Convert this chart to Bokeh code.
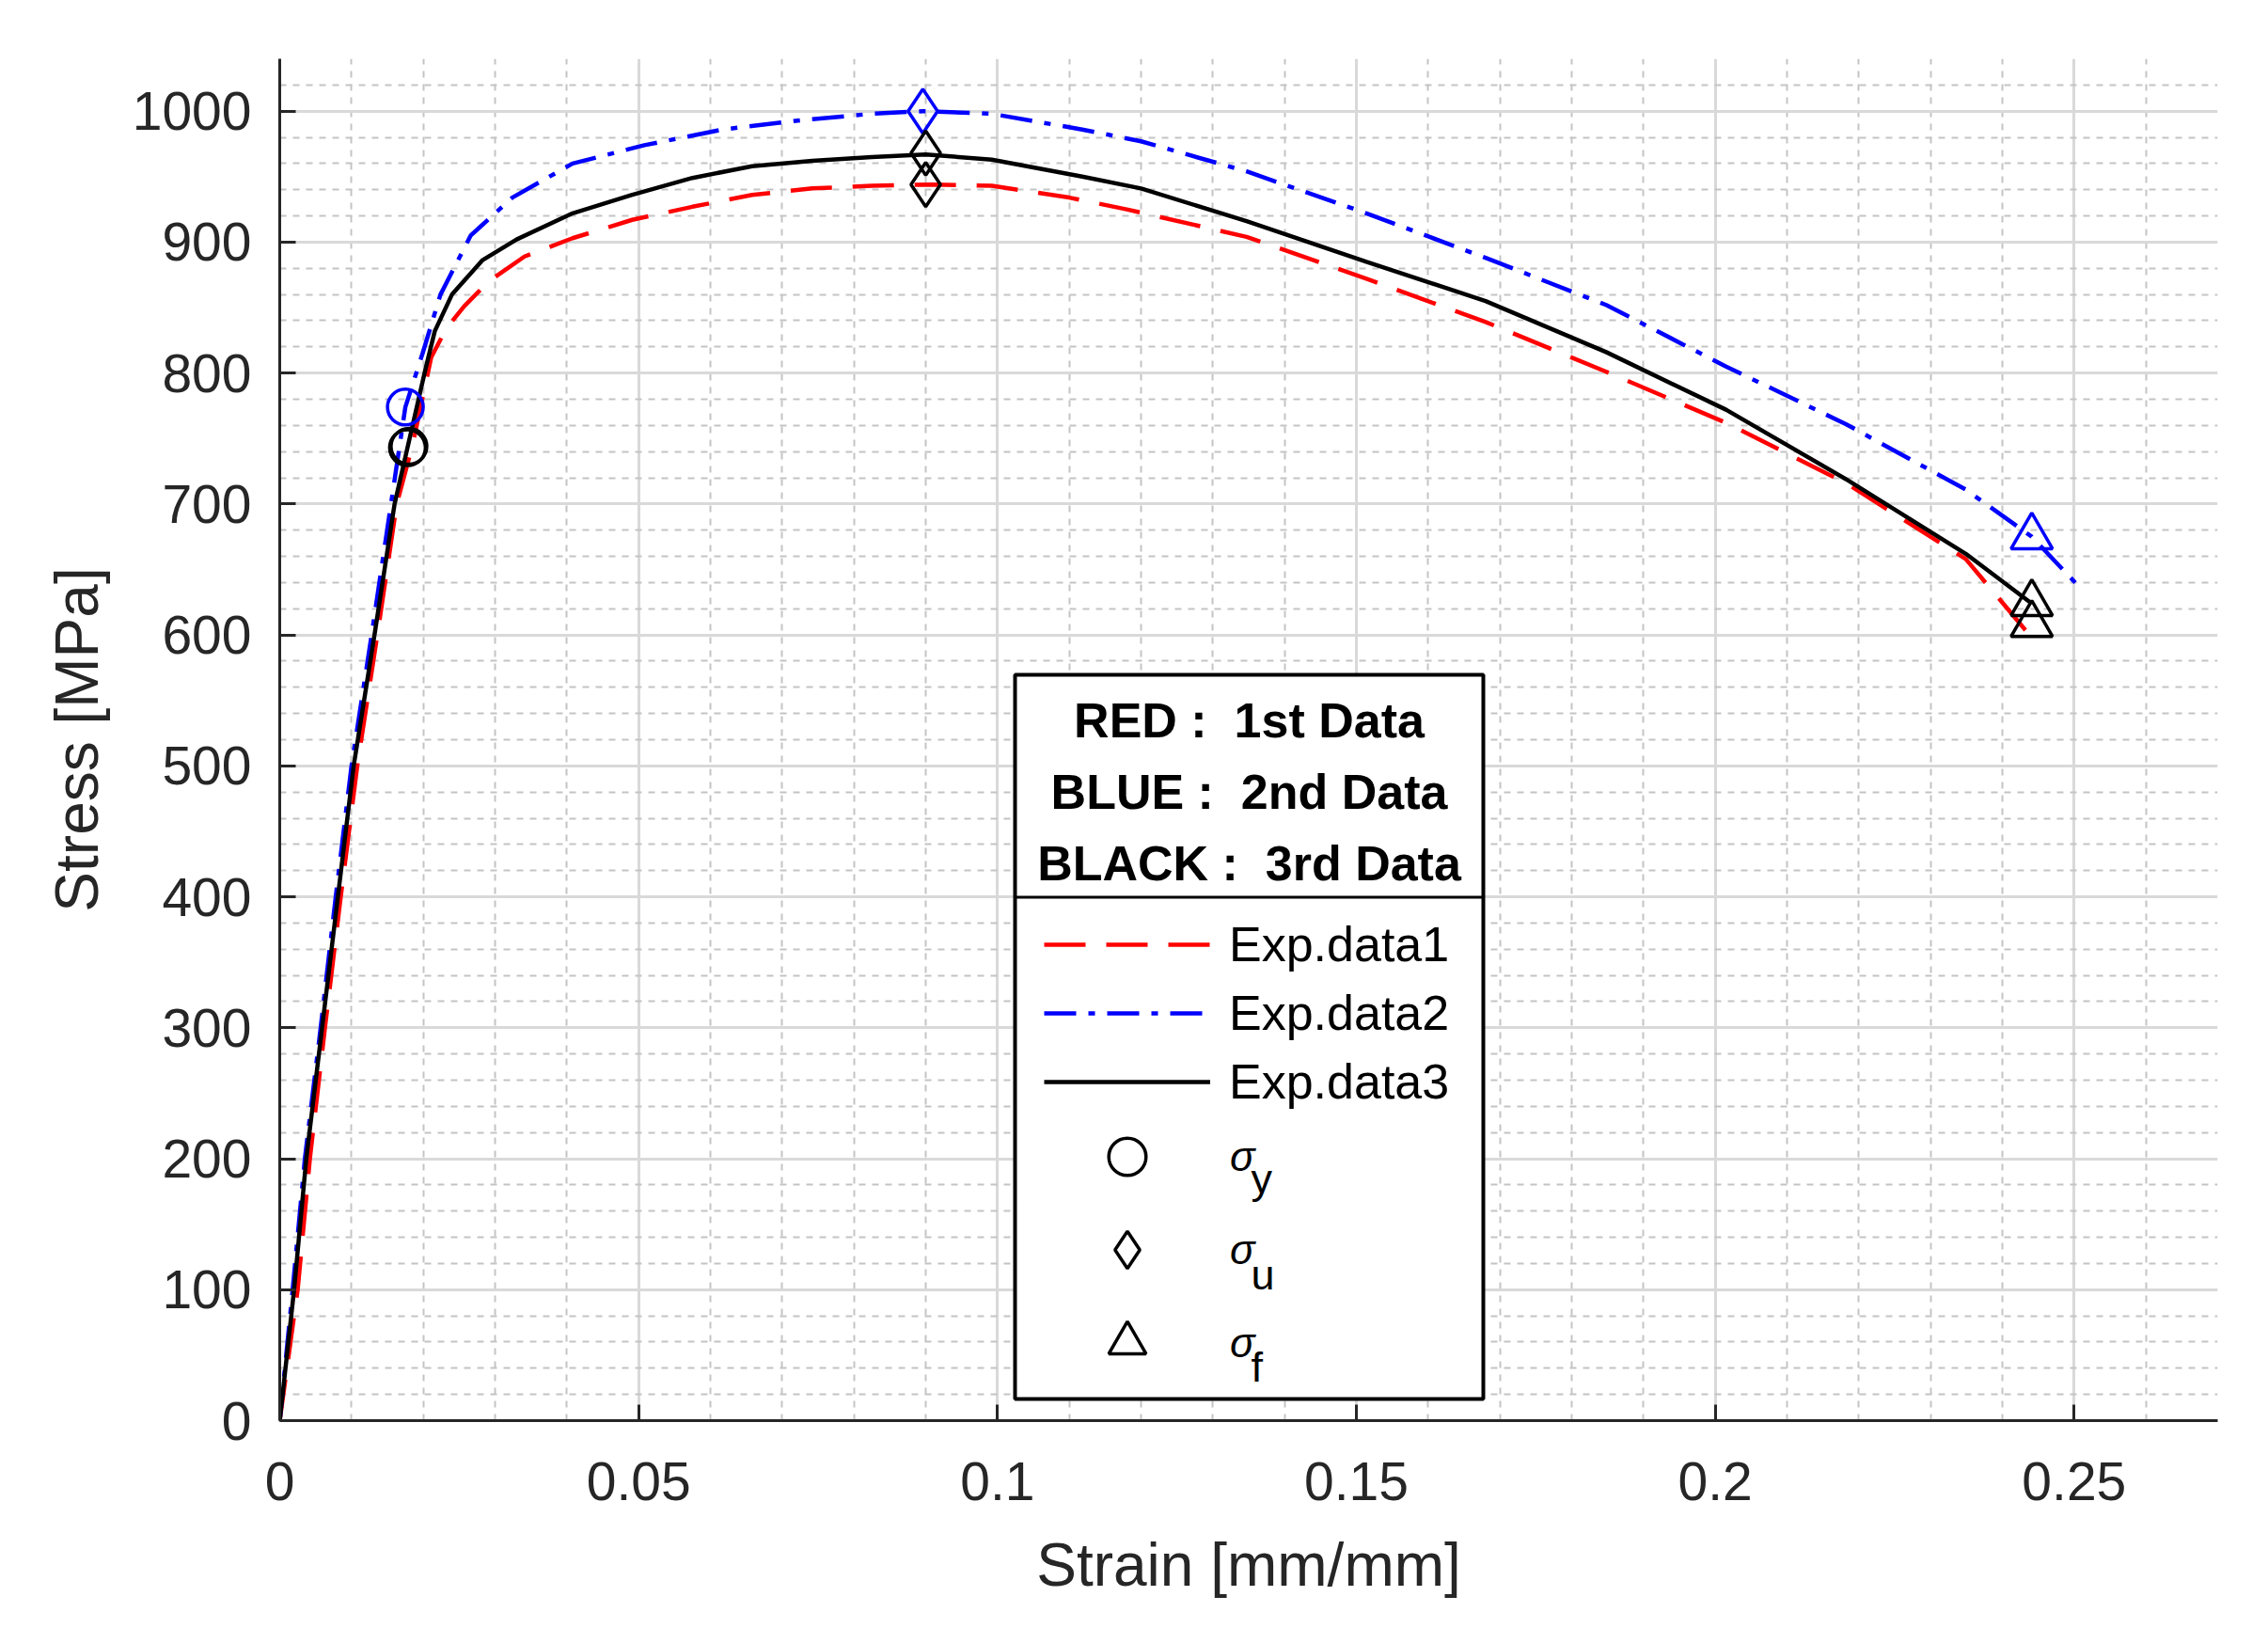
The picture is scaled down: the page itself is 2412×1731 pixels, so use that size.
from bokeh.plotting import figure
from bokeh.models import (FixedTicker, Legend, LegendItem, Label, BoxAnnotation, Range1d)
from bokeh.embed import file_html
from bokeh.resources import INLINE

# ---------------- data ----------------
strain_1 = [0, 0.0025, 0.0042, 0.0063, 0.0085, 0.0108, 0.0136, 0.0163, 0.0185, 0.0211, 0.0232,
            0.0257, 0.0291, 0.0341, 0.0408, 0.0491, 0.0575, 0.0658, 0.0742, 0.0825, 0.0909,
            0.0992, 0.1100, 0.1180, 0.1347, 0.1514, 0.1680, 0.1848, 0.2015, 0.2182, 0.2349, 0.2450]
stress_1 = [0, 100, 200, 300, 400, 500, 600, 700, 745, 812, 834,
            851, 870, 889, 903, 917, 927, 936, 941, 943, 944,
            943, 934, 925, 904, 872, 839, 801, 762, 716, 658, 592]

strain_2 = [0, 0.0018, 0.0035, 0.0057, 0.0078, 0.0100, 0.0128, 0.0155, 0.0175, 0.0199, 0.0224,
            0.0266, 0.0324, 0.0408, 0.0508, 0.0617, 0.0725, 0.0825, 0.0896, 0.0992, 0.1118,
            0.1200, 0.1347, 0.1514, 0.1680, 0.1848, 0.2015, 0.2182, 0.2349, 0.2441, 0.2505]
stress_2 = [0, 100, 200, 300, 400, 500, 600, 700, 774, 815, 860,
            905, 934, 960, 974, 986, 993, 998, 1000, 998, 986,
            977, 954, 922, 888, 852, 805, 761, 711, 675, 638]

strain_3 = [0, 0.0020, 0.0037, 0.0059, 0.0081, 0.0103, 0.0132, 0.0160, 0.0178, 0.0203, 0.0216,
            0.0240, 0.0282, 0.0330, 0.0408, 0.0490, 0.0575, 0.0658, 0.0742, 0.0825, 0.0900,
            0.0992, 0.1118, 0.1200, 0.1347, 0.1514, 0.1680, 0.1848, 0.2015, 0.2182, 0.2349, 0.2441]
stress_3 = [0, 100, 200, 300, 400, 500, 600, 700, 743, 803, 832,
            860, 886, 902, 922, 936, 949, 958, 962, 965, 967,
            963, 950, 941, 916, 885, 855, 816, 772, 719, 662, 624]

# characteristic points: yield, ultimate, fracture
point_names = ["yield", "ultimate", "fracture"]
mark_strain_1 = [0.0180, 0.0900, 0.2441]
mark_stress_1 = [744, 944, 608]
mark_strain_2 = [0.0175, 0.0896, 0.2441]
mark_stress_2 = [774, 1000, 675]
mark_strain_3 = [0.0178, 0.0900, 0.2441]
mark_stress_3 = [743, 968, 624]

series_labels = ["Exp.data1", "Exp.data2", "Exp.data3"]
header_lines = ["RED :\u00a0 1st Data", "BLUE :\u00a0 2nd Data", "BLACK :\u00a0 3rd Data"]
sigma_subscripts = ["y", "u", "f"]

x_ticks = [0, 0.05, 0.1, 0.15, 0.2, 0.25]
x_tick_labels = ["0", "0.05", "0.1", "0.15", "0.2", "0.25"]
y_ticks = [0, 100, 200, 300, 400, 500, 600, 700, 800, 900, 1000]

# ---------------- styling ----------------
FONT = "Liberation Sans"
TXT = "#262626"
marker_types = ["circle", "diamond", "triangle"]
marker_sizes = {"circle": 38, "diamond": 47, "triangle": 44}

p = figure(width=2396, height=1715, output_backend="svg", toolbar_location=None,
           x_range=Range1d(0, 0.27), y_range=Range1d(0, 1040),
           min_border_left=297, min_border_right=38, min_border_top=62, min_border_bottom=205)
p.outline_line_color = None
p.background_fill_color = "white"
p.border_fill_color = "white"

x_minor = [i / 100 for i in range(1, 28) if i % 5]
y_minor = [v for v in range(20, 1041, 20) if v % 100]
p.xaxis.ticker = FixedTicker(ticks=x_ticks, minor_ticks=x_minor)
p.yaxis.ticker = FixedTicker(ticks=y_ticks, minor_ticks=y_minor)
p.xaxis.major_label_overrides = {t: l for t, l in zip(x_ticks, x_tick_labels)}

for ax in (p.xaxis, p.yaxis):
    ax.axis_line_color = TXT
    ax.axis_line_width = 3
    ax.major_tick_in = 17
    ax.major_tick_out = 0
    ax.major_tick_line_color = TXT
    ax.major_tick_line_width = 3
    ax.minor_tick_line_color = None
    ax.major_label_text_font = FONT
    ax.major_label_text_font_size = "57px"
    ax.major_label_text_color = TXT
    ax.axis_label_text_font = FONT
    ax.axis_label_text_font_size = "64px"
    ax.axis_label_text_font_style = "normal"
    ax.axis_label_text_color = TXT
p.xaxis.axis_label = "Strain [mm/mm]"
p.yaxis.axis_label = "Stress [MPa]"
p.xaxis.major_label_standoff = 40
p.yaxis.major_label_standoff = 26
p.xaxis.axis_label_standoff = 30
p.yaxis.axis_label_standoff = 20

p.grid.grid_line_color = "#d9d9d9"
p.grid.grid_line_width = 3
p.grid.minor_grid_line_color = "#c4c4c4"
p.grid.minor_grid_line_width = 2
p.grid.minor_grid_line_dash = "7 7"

# ---------------- curves ----------------
r1 = p.line(strain_1, stress_1, line_color="#ff0000", line_width=4.5, line_dash="44 22")
r2 = p.line(strain_2, stress_2, line_color="#0000ff", line_width=4.5, line_dash="34 13 7 13")
r3 = p.line(strain_3, stress_3, line_color="#000000", line_width=4.5)

marker_renderers = {}
for key, xs, ys, col in [(1, mark_strain_1, mark_stress_1, "#000000"),
                         (2, mark_strain_2, mark_stress_2, "#0000ff"),
                         (3, mark_strain_3, mark_stress_3, "#000000")]:
    for i, mt in enumerate(marker_types):
        r = p.scatter([xs[i]], [ys[i]], marker=mt, size=marker_sizes[mt],
                      line_color=col, line_width=3.5, fill_color=None)
        marker_renderers[(key, mt)] = r

# ---------------- legend box ----------------
p.add_layout(BoxAnnotation(left=782, right=1280, bottom=23, top=793,
                           left_units="screen", right_units="screen",
                           bottom_units="screen", top_units="screen",
                           fill_color="white", fill_alpha=1.0,
                           line_color="#000000", line_alpha=1.0, line_width=4))
p.add_layout(BoxAnnotation(left=782, right=1280, bottom=555, top=558,
                           left_units="screen", right_units="screen",
                           bottom_units="screen", top_units="screen",
                           fill_color="#000000", fill_alpha=1.0, line_color=None))

for txt, yy in zip(header_lines, [745, 669, 593]):
    p.add_layout(Label(x=1031, y=yy, x_units="screen", y_units="screen", text=txt,
                       text_align="center", text_baseline="middle",
                       text_font=FONT, text_font_style="bold", text_font_size="52px",
                       text_color="#000000"))

leg1 = Legend(items=[LegendItem(label=series_labels[0], renderers=[r1]),
                     LegendItem(label=series_labels[1], renderers=[r2]),
                     LegendItem(label=series_labels[2], renderers=[r3])],
              location=(813, 329), glyph_width=177, glyph_height=62, label_height=62,
              spacing=11, padding=0, margin=0, label_standoff=20,
              label_text_font=FONT, label_text_font_size="52px", label_text_color="#000000",
              border_line_color=None, background_fill_alpha=0)
p.add_layout(leg1)

leg2 = Legend(items=[LegendItem(label="σ", renderers=[marker_renderers[(3, mt)]])
                     for mt in marker_types],
              location=(811, 33), glyph_width=181, glyph_height=99, label_height=99,
              spacing=0, padding=0, margin=0, label_standoff=19,
              label_text_font=FONT, label_text_font_size="44px", label_text_font_style="italic",
              label_text_color="#000000",
              border_line_color=None, background_fill_alpha=0)
p.add_layout(leg2)

for sub, yy in zip(sigma_subscripts, [257, 155, 57]):
    p.add_layout(Label(x=1033, y=yy, x_units="screen", y_units="screen", text=sub,
                       text_align="left", text_baseline="alphabetic",
                       text_font=FONT, text_font_size="45px", text_color="#000000"))

open("out.html", "w").write(file_html(p, INLINE))
